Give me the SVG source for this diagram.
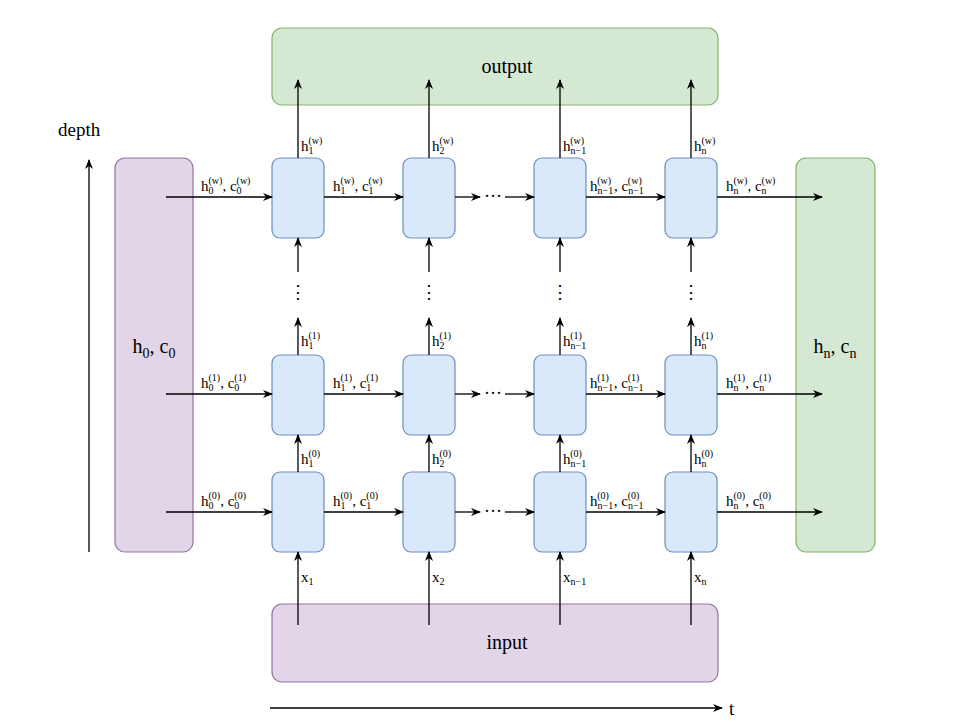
<svg xmlns="http://www.w3.org/2000/svg" width="957" height="723" viewBox="0 0 957 723">
<style>
text{font-family:"Liberation Serif","DejaVu Serif",serif;fill:#000}
.l{font-size:15px}
.b{font-size:20px}
.s{font-size:10px}
.bs{font-size:14px}
.cell{fill:#dae8fc;stroke:#6c8ebf;stroke-width:1.2}
.pur{fill:#e1d5e7;stroke:#9673a6;stroke-width:1.2}
.grn{fill:#d5e8d4;stroke:#82b366;stroke-width:1.2}
line{stroke:#000;stroke-width:1.3}
</style>
<defs><marker id="a" markerWidth="10" markerHeight="10" refX="9" refY="5" orient="auto" markerUnits="userSpaceOnUse"><path d="M0,1 L10,5 L0,9 L3,5z" fill="#000"/></marker></defs>
<rect width="957" height="723" fill="#fff"/>
<g id="output"><rect class="grn" x="272" y="28" width="446" height="77" rx="10"/><text class="b" x="507" y="73" text-anchor="middle">output</text></g>
<g id="input"><rect class="pur" x="272" y="604" width="446" height="78" rx="10"/><text class="b" x="507" y="649" text-anchor="middle">input</text></g>
<g id="init"><rect class="pur" x="115" y="158" width="78" height="394" rx="10"/><text class="b" x="154" y="353" text-anchor="middle" font-size="22">h<tspan class="bs" dy="5">0</tspan><tspan dy="-5">, c</tspan><tspan class="bs" dy="5">0</tspan></text></g>
<g id="final"><rect class="grn" x="796" y="158" width="79" height="394" rx="10"/><text class="b" x="835" y="353" text-anchor="middle" font-size="22">h<tspan class="bs" dy="5">n</tspan><tspan dy="-5">, c</tspan><tspan class="bs" dy="5">n</tspan></text></g>
<g id="cells">
<rect class="cell" x="272" y="158" width="52" height="80" rx="8"/><rect class="cell" x="403" y="158" width="52" height="80" rx="8"/><rect class="cell" x="534" y="158" width="52" height="80" rx="8"/><rect class="cell" x="665" y="158" width="52" height="80" rx="8"/>
<rect class="cell" x="272" y="355" width="52" height="80" rx="8"/><rect class="cell" x="403" y="355" width="52" height="80" rx="8"/><rect class="cell" x="534" y="355" width="52" height="80" rx="8"/><rect class="cell" x="665" y="355" width="52" height="80" rx="8"/>
<rect class="cell" x="272" y="472" width="52" height="80" rx="8"/><rect class="cell" x="403" y="472" width="52" height="80" rx="8"/><rect class="cell" x="534" y="472" width="52" height="80" rx="8"/><rect class="cell" x="665" y="472" width="52" height="80" rx="8"/>
</g>
<g id="connectors" marker-end="url(#a)">
<line x1="89" y1="552" x2="89" y2="160"/>
<line x1="270" y1="708" x2="722" y2="708"/>
<line x1="166" y1="197" x2="272" y2="197"/><line x1="324" y1="197" x2="403" y2="197"/><line x1="455" y1="197" x2="480" y2="197"/><line x1="505" y1="197" x2="534" y2="197"/><line x1="586" y1="197" x2="665" y2="197"/><line x1="717" y1="197" x2="822" y2="197"/>
<line x1="166" y1="394" x2="272" y2="394"/><line x1="324" y1="394" x2="403" y2="394"/><line x1="455" y1="394" x2="480" y2="394"/><line x1="505" y1="394" x2="534" y2="394"/><line x1="586" y1="394" x2="665" y2="394"/><line x1="717" y1="394" x2="822" y2="394"/>
<line x1="166" y1="512" x2="272" y2="512"/><line x1="324" y1="512" x2="403" y2="512"/><line x1="455" y1="512" x2="480" y2="512"/><line x1="505" y1="512" x2="534" y2="512"/><line x1="586" y1="512" x2="665" y2="512"/><line x1="717" y1="512" x2="822" y2="512"/>
<line x1="298" y1="625" x2="298" y2="552"/><line x1="429" y1="625" x2="429" y2="552"/><line x1="560" y1="625" x2="560" y2="552"/><line x1="691" y1="625" x2="691" y2="552"/>
<line x1="298" y1="472" x2="298" y2="435"/><line x1="429" y1="472" x2="429" y2="435"/><line x1="560" y1="472" x2="560" y2="435"/><line x1="691" y1="472" x2="691" y2="435"/>
<line x1="298" y1="355" x2="298" y2="318"/><line x1="429" y1="355" x2="429" y2="318"/><line x1="560" y1="355" x2="560" y2="318"/><line x1="691" y1="355" x2="691" y2="318"/>
<line x1="298" y1="272" x2="298" y2="238"/><line x1="429" y1="272" x2="429" y2="238"/><line x1="560" y1="272" x2="560" y2="238"/><line x1="691" y1="272" x2="691" y2="238"/>
<line x1="298" y1="158" x2="298" y2="80"/><line x1="429" y1="158" x2="429" y2="80"/><line x1="560" y1="158" x2="560" y2="80"/><line x1="691" y1="158" x2="691" y2="80"/>
</g>
<g id="labels">
<text x="58" y="136" font-size="19">depth</text>
<text x="729" y="715" font-size="19">t</text>
<g font-size="18" text-anchor="middle"><text x="298" y="298">⋮</text><text x="429" y="298">⋮</text><text x="560" y="298">⋮</text><text x="691" y="298">⋮</text>
<text x="493" y="202">···</text><text x="493" y="399">···</text><text x="493" y="517">···</text></g>
<g class="l">
<text x="301" y="151">h<tspan class="s" dy="3">1</tspan><tspan class="s" dx="-5" dy="-10">(w)</tspan></text>
<text x="432" y="151">h<tspan class="s" dy="3">2</tspan><tspan class="s" dx="-5" dy="-10">(w)</tspan></text>
<text x="563" y="151">h<tspan class="s" dy="3">n−1</tspan><tspan class="s" dx="-16" dy="-10">(w)</tspan></text>
<text x="694" y="151">h<tspan class="s" dy="3">n</tspan><tspan class="s" dx="-5" dy="-10">(w)</tspan></text>
<text x="301" y="346">h<tspan class="s" dy="3">1</tspan><tspan class="s" dx="-5" dy="-10">(1)</tspan></text>
<text x="432" y="346">h<tspan class="s" dy="3">2</tspan><tspan class="s" dx="-5" dy="-10">(1)</tspan></text>
<text x="563" y="346">h<tspan class="s" dy="3">n−1</tspan><tspan class="s" dx="-16" dy="-10">(1)</tspan></text>
<text x="694" y="346">h<tspan class="s" dy="3">n</tspan><tspan class="s" dx="-5" dy="-10">(1)</tspan></text>
<text x="301" y="464">h<tspan class="s" dy="3">1</tspan><tspan class="s" dx="-5" dy="-10">(0)</tspan></text>
<text x="432" y="464">h<tspan class="s" dy="3">2</tspan><tspan class="s" dx="-5" dy="-10">(0)</tspan></text>
<text x="563" y="464">h<tspan class="s" dy="3">n−1</tspan><tspan class="s" dx="-16" dy="-10">(0)</tspan></text>
<text x="694" y="464">h<tspan class="s" dy="3">n</tspan><tspan class="s" dx="-5" dy="-10">(0)</tspan></text>
<text x="301" y="582">x<tspan class="s" dy="3">1</tspan></text>
<text x="432" y="582">x<tspan class="s" dy="3">2</tspan></text>
<text x="563" y="582">x<tspan class="s" dy="3">n−1</tspan></text>
<text x="694" y="582">x<tspan class="s" dy="3">n</tspan></text>
</g>
<g class="l">
<text x="201" y="191">h<tspan class="s" dy="3">0</tspan><tspan class="s" dx="-5" dy="-10">(w)</tspan><tspan dy="7">, c</tspan><tspan class="s" dy="3">0</tspan><tspan class="s" dx="-5" dy="-10">(w)</tspan></text>
<text x="333" y="191">h<tspan class="s" dy="3">1</tspan><tspan class="s" dx="-5" dy="-10">(w)</tspan><tspan dy="7">, c</tspan><tspan class="s" dy="3">1</tspan><tspan class="s" dx="-5" dy="-10">(w)</tspan></text>
<text x="590" y="191">h<tspan class="s" dy="3">n−1</tspan><tspan class="s" dx="-16" dy="-10">(w)</tspan><tspan dx="3" dy="7">, c</tspan><tspan class="s" dy="3">n−1</tspan><tspan class="s" dx="-16" dy="-10">(w)</tspan></text>
<text x="726" y="191">h<tspan class="s" dy="3">n</tspan><tspan class="s" dx="-5" dy="-10">(w)</tspan><tspan dy="7">, c</tspan><tspan class="s" dy="3">n</tspan><tspan class="s" dx="-5" dy="-10">(w)</tspan></text>
<text x="201" y="388">h<tspan class="s" dy="3">0</tspan><tspan class="s" dx="-5" dy="-10">(1)</tspan><tspan dy="7">, c</tspan><tspan class="s" dy="3">0</tspan><tspan class="s" dx="-5" dy="-10">(1)</tspan></text>
<text x="333" y="388">h<tspan class="s" dy="3">1</tspan><tspan class="s" dx="-5" dy="-10">(1)</tspan><tspan dy="7">, c</tspan><tspan class="s" dy="3">1</tspan><tspan class="s" dx="-5" dy="-10">(1)</tspan></text>
<text x="590" y="388">h<tspan class="s" dy="3">n−1</tspan><tspan class="s" dx="-16" dy="-10">(1)</tspan><tspan dx="5" dy="7">, c</tspan><tspan class="s" dy="3">n−1</tspan><tspan class="s" dx="-16" dy="-10">(1)</tspan></text>
<text x="726" y="388">h<tspan class="s" dy="3">n</tspan><tspan class="s" dx="-5" dy="-10">(1)</tspan><tspan dy="7">, c</tspan><tspan class="s" dy="3">n</tspan><tspan class="s" dx="-5" dy="-10">(1)</tspan></text>
<text x="201" y="506">h<tspan class="s" dy="3">0</tspan><tspan class="s" dx="-5" dy="-10">(0)</tspan><tspan dy="7">, c</tspan><tspan class="s" dy="3">0</tspan><tspan class="s" dx="-5" dy="-10">(0)</tspan></text>
<text x="333" y="506">h<tspan class="s" dy="3">1</tspan><tspan class="s" dx="-5" dy="-10">(0)</tspan><tspan dy="7">, c</tspan><tspan class="s" dy="3">1</tspan><tspan class="s" dx="-5" dy="-10">(0)</tspan></text>
<text x="590" y="506">h<tspan class="s" dy="3">n−1</tspan><tspan class="s" dx="-16" dy="-10">(0)</tspan><tspan dx="5" dy="7">, c</tspan><tspan class="s" dy="3">n−1</tspan><tspan class="s" dx="-16" dy="-10">(0)</tspan></text>
<text x="726" y="506">h<tspan class="s" dy="3">n</tspan><tspan class="s" dx="-5" dy="-10">(0)</tspan><tspan dy="7">, c</tspan><tspan class="s" dy="3">n</tspan><tspan class="s" dx="-5" dy="-10">(0)</tspan></text>
</g>
</g>
</svg>
